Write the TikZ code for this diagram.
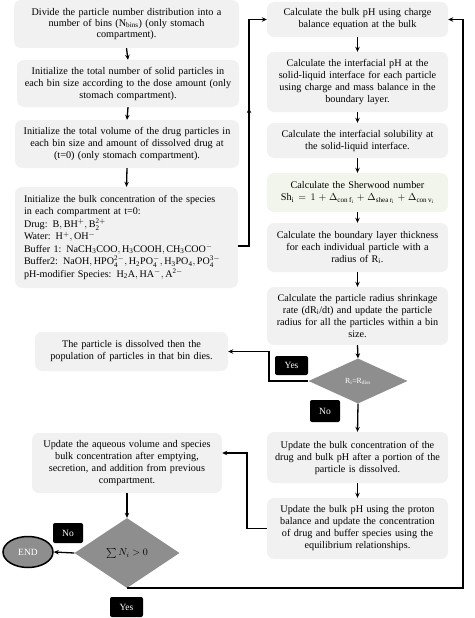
\documentclass[tikz,border=0pt]{standalone}
\usepackage{fontspec}
\setmainfont{Liberation Serif}
\usetikzlibrary{shapes.geometric,arrows.meta,decorations.markings}
\definecolor{boxgray}{HTML}{F1F1F1}
\definecolor{shgreen}{HTML}{F2F5EC}
\definecolor{diagray}{HTML}{8E8E8E}
\newcommand{\myloosels}{\lineskiplimit=1.5pt\relax\lineskip=1.5pt\relax}
\begin{document}
\begin{tikzpicture}[x=1pt,y=-1pt,
  pbox/.style={rectangle, fill=boxgray, rounded corners=7pt, align=center, inner sep=0pt, font=\fontsize{10.2}{12}\selectfont},
  arr/.style={-{Stealth[length=5pt,width=4.5pt]}, line width=1.3pt},
  loopline/.style={line width=1.6pt},
  tag/.style={rectangle, fill=black, text=white, rounded corners=2pt, inner sep=0pt, font=\fontsize{9.5}{10}\selectfont},
  dia/.style={diamond, fill=diagray, inner sep=0pt}
]
\useasboundingbox (0,0) rectangle (474,618);

% left column
\node[pbox, minimum width=225pt, minimum height=48pt, text width=221pt, font=\fontsize{10.2}{11.2}\selectfont] (L1) at (126.5,24)
 {Divide the particle number distribution into a\\ number of bins (N\textsubscript{bins}) (only stomach\\ compartment).};
\node[pbox, minimum width=222pt, minimum height=47pt, text width=218pt] (L2) at (128,83.5)
 {Initialize the total number of solid particles in\\ each bin size according to the dose amount (only\\ stomach compartment).};
\node[pbox, minimum width=224pt, minimum height=48pt, text width=220pt] (L3) at (127,144)
 {Initialize the total volume of the drug particles in\\ each bin size and amount of dissolved drug at\\ (t=0) (only stomach compartment).};
\node[pbox, minimum width=223pt, minimum height=101pt, text width=205pt, align=left, font={\fontsize{10.1}{12.4}\selectfont\myloosels}] (L4) at (126.5,237.5)
 {Initialize the bulk concentration of the species\\
  in each compartment at t=0:\\
  Drug: $\mathrm{B}, \mathrm{BH^{+}}, \mathrm{B_2^{2+}}$\\
  Water: $\mathrm{H^{+}}, \mathrm{OH^{-}}$\\
  Buffer 1: $\mathrm{NaCH_3COO}, \mathrm{H_3COOH}, \mathrm{CH_3COO^{-}}$\\
  Buffer2: $\mathrm{NaOH}, \mathrm{HPO_4^{2-}}, \mathrm{H_2PO_4^{-}}, \mathrm{H_3PO_4}, \mathrm{PO_4^{3-}}$\\
  pH-modifier Species: $\mathrm{H_2A}, \mathrm{HA^{-}}, \mathrm{A^{2-}}$};
\node[pbox, minimum width=193pt, minimum height=39pt, text width=189pt] (L5) at (131.5,351.5)
 {The particle is dissolved then the\\ population of particles in that bin dies.};
\node[pbox, minimum width=190pt, minimum height=60pt, text width=186pt] (L6) at (127,463)
 {Update the aqueous volume and species\\ bulk concentration after emptying,\\ secretion, and addition from previous\\ compartment.};
\node[dia, minimum width=105pt, minimum height=70pt] (D2) at (127,553)
 {$\sum N_i > 0$};
\node[ellipse, fill=diagray, draw=black, line width=1.5pt, minimum width=50pt, minimum height=31pt, inner sep=0pt, text=white, font=\fontsize{9.5}{10}\selectfont] (END) at (28,552) {END};

% right column
\node[pbox, minimum width=181pt, minimum height=35pt, text width=177pt] (R1) at (357.5,19.5)
 {Calculate the bulk pH using charge\\ balance equation at the bulk};
\node[pbox, minimum width=181pt, minimum height=60pt, text width=177pt] (R2) at (357.5,82)
 {Calculate the interfacial pH at the\\ solid-liquid interface for each particle\\ using charge and mass balance in the\\ boundary layer.};
\node[pbox, minimum width=181pt, minimum height=35pt, text width=177pt] (R3) at (357.5,140.5)
 {Calculate the interfacial solubility at\\ the solid-liquid interface.};
\node[pbox, fill=shgreen, minimum width=181pt, minimum height=39pt, text width=177pt] (R4) at (357.5,192.5)
 {Calculate the Sherwood number\\ $\mathrm{Sh_i} = 1 + \Delta_{\mathrm{con\,f_i}} + \Delta_{\mathrm{shea\,r_i}} + \Delta_{\mathrm{con\,v_i}}$};
\node[pbox, minimum width=181pt, minimum height=49pt, text width=177pt] (R5) at (357.5,247.5)
 {Calculate the boundary layer thickness\\ for each individual particle with a\\ radius of R\textsubscript{i}.};
\node[pbox, minimum width=181pt, minimum height=58pt, text width=177pt] (R6) at (357.5,316)
 {Calculate the particle radius shrinkage\\ rate (dR\textsubscript{i}/dt) and update the particle\\ radius for all the particles within a bin\\ size.};
\node[dia, minimum width=99pt, minimum height=45pt, text=white, font=\fontsize{7.8}{8}\selectfont] (D1) at (358,381)
 {R\textsubscript{i}=R\textsubscript{diss}};
\node[pbox, minimum width=181pt, minimum height=51pt, text width=177pt] (R7) at (357.5,457.5)
 {Update the bulk concentration of the\\ drug and bulk pH after a portion of the\\ particle is dissolved.};
\node[pbox, minimum width=181pt, minimum height=61pt, text width=177pt] (R8) at (357.5,528.5)
 {Update the bulk pH using the proton\\ balance and update the concentration\\ of drug and buffer species using the\\ equilibrium relationships.};

% tags
\node[tag, minimum width=33pt, minimum height=19pt] (Y1) at (291.5,365.5) {Yes};
\node[tag, minimum width=30pt, minimum height=22pt] (N1) at (325,411) {No};
\node[tag, minimum width=30pt, minimum height=20pt] (N2) at (68,533) {No};
\node[tag, minimum width=33pt, minimum height=20pt] (Y2) at (126.5,607) {Yes};

% helper coordinates for connector columns
\coordinate (lx) at (249,0);
\coordinate (ax) at (269,0);
\coordinate (bx) at (247,0);
\coordinate (rx) at (463,0);

% straight arrows
\draw[arr] (L1.south) -- (L2.north);
\draw[arr] (L2.south) -- (L3.north);
\draw[arr] (L3.south) -- (L4.north);
\draw[arr] (R1.south) -- (R2.north);
\draw[arr] (R2.south) -- (R3.north);
\draw[arr] (R3.south) -- (R4.north);
\draw[arr] (R4.south) -- (R5.north);
\draw[arr] (R5.south) -- (R6.north);
\draw[arr] (R6.south) -- (D1.north);
\draw[arr] (D1.south) -- (R7.north);
\draw[arr] (R7.south) -- (R8.north);
\draw[arr] (L6.south) -- (D2.north);
\draw[arr] (D2.west) -- (END.east);

% loops
\draw[arr, postaction={decorate, decoration={markings, mark=at position 0.583 with {\arrow{Stealth[length=5pt,width=4.5pt]}}}}]
  ([yshift=-8.5pt]L4.east) -- ([yshift=-8.5pt]L4.east -| lx) -- (lx |- R1.west) -- (R1.west);
\draw[arr] (D1.west) -- (D1.west -| ax) |- (L5.east);
\draw[arr] (R8.west) -- (R8.west -| bx) |- ([yshift=10pt]L6.east);
\draw[arr, loopline] (D2.south) -- (D2.south -| rx) -- (rx |- R1.east) -- (R1.east);
\end{tikzpicture}
\end{document}
